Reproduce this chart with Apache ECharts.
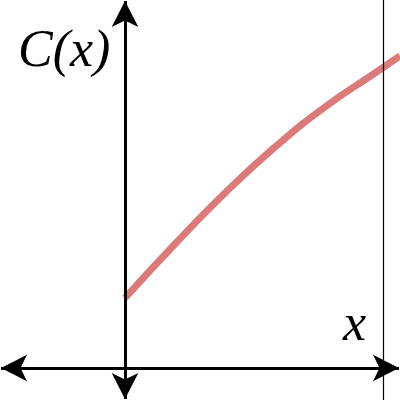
<!DOCTYPE html>
<html>
<head>
<meta charset="utf-8" />
<script src="https://cdn.jsdelivr.net/npm/echarts@6/dist/echarts.min.js"></script>
</head>
<body style="margin:0">
<div id="main" style="width:400px;height:400px;"></div>
<script>
// curve samples (1 unit = 100px)
var xs = [0, 0.5, 1, 1.5, 2, 2.5, 2.75];
var cs = [0.70, 1.24, 1.75, 2.21, 2.61, 2.95, 3.12];
var vlineX = 2.58;

var chart = echarts.init(document.getElementById('main'));
var pts = xs.map(function (x, i) { return [x, cs[i]]; });
chart.setOption({
    animation: false,
    grid: { left: 0, right: 0, top: 0, bottom: 0 },
    xAxis: { type: 'value', min: -1.25, max: 2.75, show: false },
    yAxis: { type: 'value', min: -0.32, max: 3.68, show: false },
    series: [{
        type: 'line', data: pts, smooth: true, symbol: 'none',
        lineStyle: { color: '#dc7a7a', width: 7 },
        markLine: {
            silent: true, label: { show: false },
            symbol: ['arrow', 'arrow'], symbolSize: [20, 26],
            lineStyle: { color: '#000', width: 3, type: 'solid' },
            data: [
                [{ coord: [-1.24, 0] }, { coord: [2.74, 0] }],
                [{ coord: [0, -0.31] }, { coord: [0, 3.67] }],
                [{ coord: [vlineX, -0.32], symbol: 'none', lineStyle: { width: 1.2 } },
                 { coord: [vlineX, 3.68], symbol: 'none' }]
            ]
        }
    }],
    graphic: [
        { type: 'text', left: 18, top: 26, style: { text: 'C(x)', font: 'italic 52px "Liberation Serif"', fill: '#000' } },
        { type: 'text', left: 343, top: 300, style: { text: 'x', font: 'italic 52px "Liberation Serif"', fill: '#000' } }
    ]
});
</script>
</body>
</html>
